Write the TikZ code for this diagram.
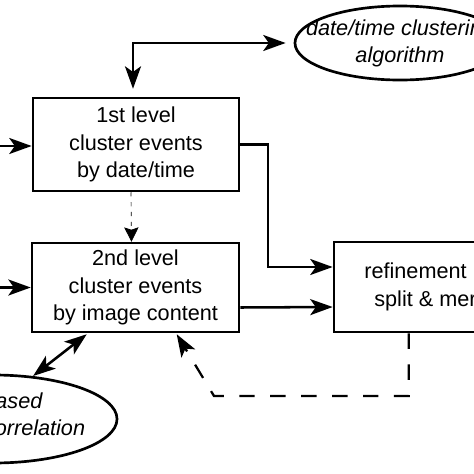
\documentclass[tikz,border=0pt]{standalone}
\usepackage{fontspec}
\setmainfont{Liberation Sans}
\usetikzlibrary{arrows.meta,positioning,calc,shapes.geometric}
\tikzset{
  flow/.style={-{Stealth[length=5.6mm, width=4mm, inset=1.4mm]}, line width=1.8pt},
  both/.style={{Stealth[length=5.6mm, width=4mm, inset=1.4mm]}-{Stealth[length=5.6mm, width=4mm, inset=1.4mm]}, line width=1.8pt},
  weak/.style={-{Stealth[length=3.6mm, width=3.6mm, inset=0.6mm]}, line width=0.5pt, dashed, dash pattern=on 3pt off 4pt},
  fback/.style={-{Stealth[length=5.6mm, width=4mm, inset=1.4mm]}, line width=1.6pt, dash pattern=on 11pt off 11pt},
  stage/.style={draw, line width=1.9pt, align=center, inner sep=0pt, font=\fontsize{15.4}{19.8}\selectfont},
  algo/.style={ellipse, draw, line width=1.9pt, inner sep=0pt},
  algotext/.style={align=center, font=\fontsize{15.4}{19.2}\selectfont\itshape},
}

\begin{document}
\begin{tikzpicture}[x=0.025cm, y=-0.025cm]
\useasboundingbox (0,0) rectangle (474,474);
\clip (0,0) rectangle (474,474);

% ===================== stages ===========================
\node[stage, minimum width=51.5mm, minimum height=23.2mm] (c1) at (136,144.5)
  {1st level\\cluster events\\by date/time};
\node[stage, minimum width=51.7mm, minimum height=22.2mm] (c2) at (135.5,287.5)
  {2nd level\\cluster events\\by image content};
\node[stage, minimum width=50mm, minimum height=22.5mm] (rf) at (434,287) {};
\node[stage, draw=none, align=left, anchor=west] at (363,287)
  {refinement\\\hspace*{2.5mm}split \& merge};

% ===================== algorithms ===========================
\node[algo, minimum width=52.5mm, minimum height=18.5mm] (dt) at (400,43) {};
\node[algotext] at (dt.center) {date/time clustering\\algorithm};
\node[algo, minimum width=62mm, minimum height=22mm] (hc) at (-7,419) {};
\node[algotext] at ($(hc.center)+(-9,-3)$) {block-based\\histogram correlation};

% ===================== connectors ===========================
\coordinate (in1) at (0,146);
\coordinate (in2) at (0,287.5);
\draw[flow] (in1) -- (in1 -| c1.west);
\draw[flow] (in2) -- (in2 -| c2.west);
\draw[both, shorten <=2mm, shorten >=2mm] (dt.west) -| ($(c1.north)+(-3,0)$);
\draw[weak] ($(c1.south)+(-5,0)$) -- ($(c2.north)+(-4,0)$);
\draw[flow] (c1.east) -- (268,144.5) |- ($(rf.west)+(0,-20)$);
\draw[flow] ($(c2.east)+(0,20)$) -- ($(rf.west)+(0,20)$);
\draw[both] ($(c2.south west)+(56,1)$) -- (hc.47);

% feedback from refinement
\coordinate (fbL) at (214,396);
\draw[fback] ($(rf.south west)+(76,0)$) |- (fbL) -- ($(c2.south west)+(146,1)$);

\end{tikzpicture}
\end{document}
